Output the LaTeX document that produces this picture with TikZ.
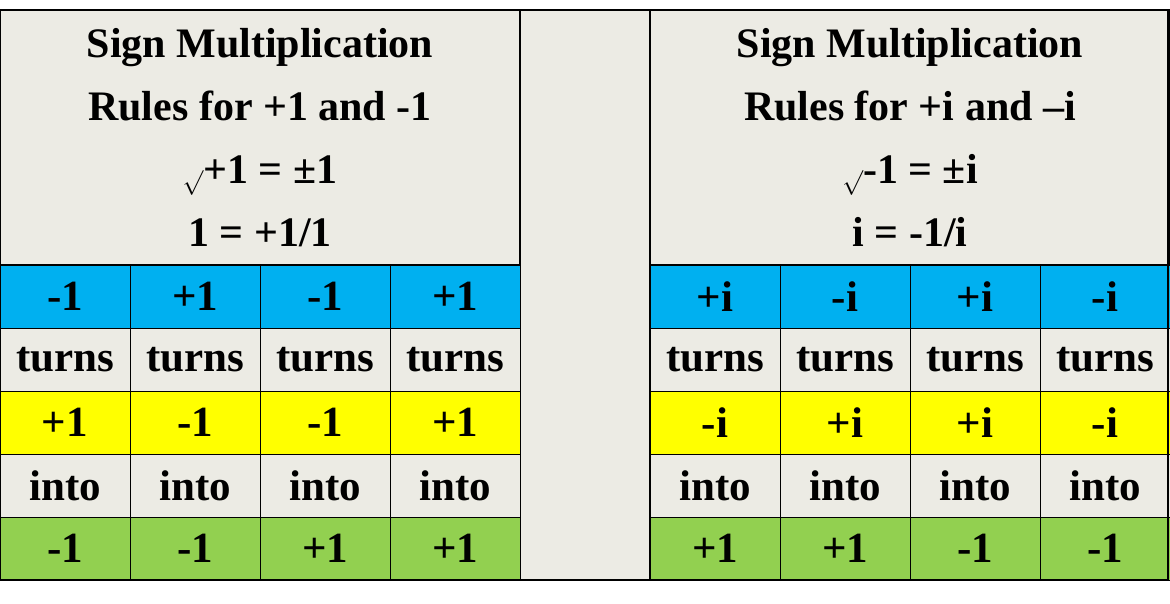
\documentclass[tikz,border=0pt]{standalone}
\usepackage{fontspec}
\setmainfont{Liberation Serif}
\usepackage{xcolor}
\definecolor{paper}{RGB}{236,235,228}
\definecolor{skyrow}{RGB}{0,176,240}
\definecolor{yelrow}{RGB}{255,255,0}
\definecolor{grnrow}{RGB}{146,208,80}
\usetikzlibrary{positioning}
\tikzset{
  cell/.style={draw=black,line width=1pt,minimum width=130pt,minimum height=63pt,
    inner sep=0pt,outer sep=0pt,anchor=north west,font=\fontsize{43}{43}\selectfont\bfseries},
  head/.style={draw=black,line width=1.5pt,minimum width=520pt,minimum height=255pt,
    inner sep=0pt,outer sep=0pt,anchor=north west,fill=paper,align=center,
    font=\fontsize{42}{63}\selectfont\bfseries},
}
\begin{document}
\begin{tikzpicture}[x=1pt,y=-1pt]
\useasboundingbox (0,0) rectangle (1170,603);
%% middle gap
\draw[fill=paper,line width=1.5pt] (520,10) rectangle (650,580);
%% headers
\node[head] (headL) at (0,10) {Sign Multiplication\\Rules for +1 and -1\\$\sqrt{}$+1 = ±1\\1 = +1/1};
\node[head] (headR) at (650,10) {Sign Multiplication\\Rules for +i and –i\\$\sqrt{}$-1 = ±i\\i = -1/i};
%% rows, left table
\foreach \t [count=\c from 0] in {-1,+1,-1,+1}
  \node[cell,fill=skyrow] (lA\c) at (130*\c,265) {\t};
\foreach \c in {0,...,3}
  \node[cell,fill=paper] (lB\c) at (130*\c,328) {turns};
\foreach \t [count=\c from 0] in {+1,-1,-1,+1}
  \node[cell,fill=yelrow] (lC\c) at (130*\c,391) {\t};
\foreach \c in {0,...,3}
  \node[cell,fill=paper] (lD\c) at (130*\c,454) {into};
\foreach \t [count=\c from 0] in {-1,-1,+1,+1}
  \node[cell,fill=grnrow,minimum height=63pt] (lE\c) at (130*\c,517) {\t};
%% rows, right table
\foreach \t [count=\c from 0] in {+i,-i,+i,-i}
  \node[cell,fill=skyrow] (rA\c) at (650+130*\c,265) {\t};
\foreach \c in {0,...,3}
  \node[cell,fill=paper] (rB\c) at (650+130*\c,328) {turns};
\foreach \t [count=\c from 0] in {-i,+i,+i,-i}
  \node[cell,fill=yelrow] (rC\c) at (650+130*\c,391) {\t};
\foreach \c in {0,...,3}
  \node[cell,fill=paper] (rD\c) at (650+130*\c,454) {into};
\foreach \t [count=\c from 0] in {+1,+1,-1,-1}
  \node[cell,fill=grnrow] (rE\c) at (650+130*\c,517) {\t};
%% outer frame
\draw[line width=1.5pt] (0,10) rectangle (1168,580);
\end{tikzpicture}
\end{document}
